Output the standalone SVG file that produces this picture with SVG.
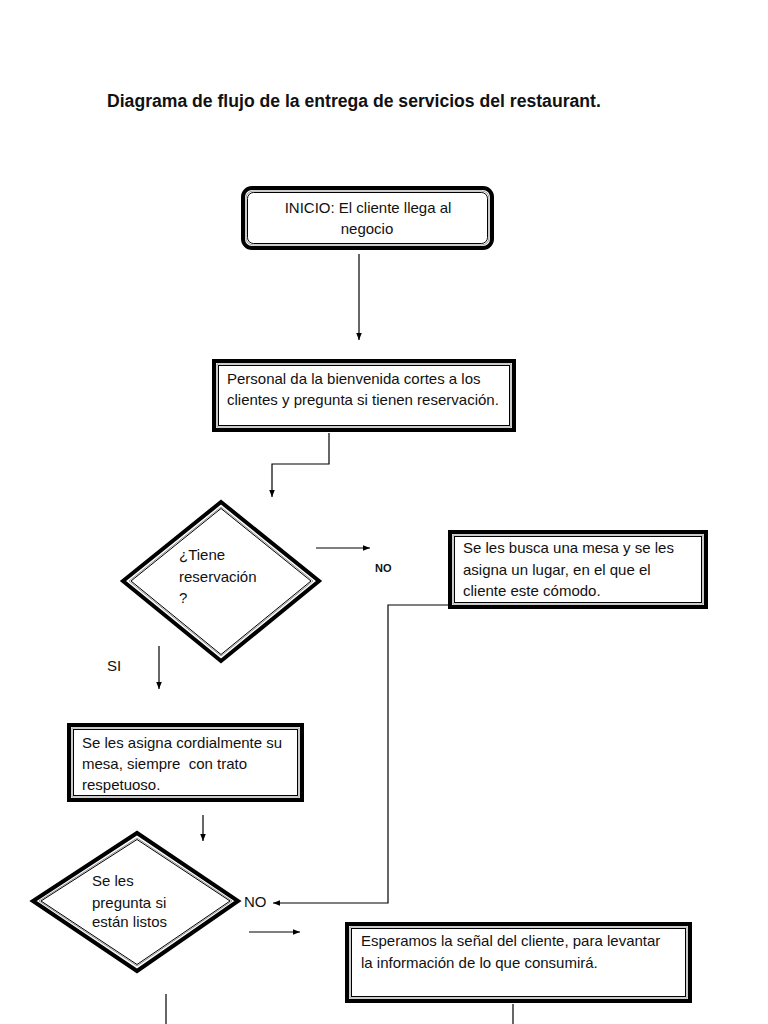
<svg xmlns="http://www.w3.org/2000/svg" width="768" height="1024" viewBox="0 0 768 1024">
<style>
text{font-family:"Liberation Sans",Arial,sans-serif;font-size:15px;fill:#111}
.title{font-weight:bold;font-size:17.6px}
.o{fill:#fff;stroke:#000;stroke-width:4}
.m{fill:none;stroke:#999;stroke-width:1}
.i{fill:none;stroke:#000;stroke-width:1}
.c{fill:none;stroke:#000;stroke-width:1.2}
</style>
<defs>
<marker id="ah" viewBox="0 0 10 10" refX="10" refY="5" markerWidth="7" markerHeight="7" orient="auto" markerUnits="userSpaceOnUse">
<path d="M0,1 L10,5 L0,9 Z" fill="#000"/>
</marker>
</defs>
<rect width="768" height="1024" fill="#fff"/>
<text class="title" x="107" y="107">Diagrama de flujo de la entrega de servicios del restaurant.</text>

<g id="connectors">
<path class="c" d="M359,254 V340" marker-end="url(#ah)"/>
<path class="c" d="M329,433 V464 H272 V497" marker-end="url(#ah)"/>
<path class="c" d="M316,548 H370" marker-end="url(#ah)"/>
<path class="c" d="M448,605 H388 V903 H273" marker-end="url(#ah)"/>
<path class="c" d="M159,646 V689" marker-end="url(#ah)"/>
<path class="c" d="M203,815 V841" marker-end="url(#ah)"/>
<path class="c" d="M249,932 H300" marker-end="url(#ah)"/>
<path class="c" d="M166,994 V1024"/>
<path class="c" d="M513,1004 V1024"/>
</g>

<g id="inicio">
<rect class="o" x="243" y="188" width="249" height="60" rx="9"/>
<rect class="m" x="246" y="191" width="243" height="54" rx="7"/>
<rect class="i" x="247.5" y="192.5" width="240" height="51" rx="6"/>
<text x="368" y="213" text-anchor="middle">INICIO: El cliente llega al</text>
<text x="367" y="234" text-anchor="middle">negocio</text>
</g>

<g id="bienvenida">
<rect class="o" x="214" y="361" width="300" height="69"/>
<rect class="m" x="217" y="364" width="294" height="63"/>
<rect class="i" x="218.5" y="365.5" width="291" height="60"/>
<text x="227" y="384">Personal da la bienvenida cortes a los</text>
<text x="227" y="405">clientes y pregunta si tienen reservación.</text>
</g>

<g id="reservacion">
<polygon class="o" points="221,502 319,581 221,661 123,581"/>
<polygon class="m" points="221,507 313,581 221,656 129,581"/>
<polygon class="i" points="221,508.5 311,581 221,654.5 131,581"/>
<text x="179" y="560">¿Tiene</text>
<text x="179" y="582">reservación</text>
<text x="179" y="603">?</text>
</g>
<text x="375" y="572" style="font-size:11px;font-weight:bold">NO</text>

<g id="busca">
<rect class="o" x="450" y="532" width="256" height="75"/>
<rect class="m" x="453" y="535" width="250" height="69"/>
<rect class="i" x="454.5" y="536.5" width="247" height="66"/>
<text x="463" y="553">Se les busca una mesa y se les</text>
<text x="463" y="575">asigna un lugar, en el que el</text>
<text x="463" y="596">cliente este cómodo.</text>
</g>

<text x="107" y="671">SI</text>

<g id="asigna">
<rect class="o" x="69" y="725" width="233" height="75"/>
<rect class="m" x="72" y="728" width="227" height="69"/>
<rect class="i" x="73.5" y="729.5" width="224" height="66"/>
<text x="82" y="748">Se les asigna cordialmente su</text>
<text x="82" y="769" xml:space="preserve">mesa, siempre  con trato</text>
<text x="82" y="790">respetuoso.</text>
</g>

<g id="listos">
<polygon class="o" points="137,833 238,901 137,971 33,901"/>
<polygon class="m" points="137,838 232,901 137,966 39,901"/>
<polygon class="i" points="137,839.5 230,901 137,964.5 41,901"/>
<text x="92" y="886">Se les</text>
<text x="92" y="908">pregunta si</text>
<text x="92" y="927">están listos</text>
</g>
<text x="244" y="907">NO</text>

<g id="esperamos">
<rect class="o" x="347" y="924" width="343" height="77"/>
<rect class="m" x="350" y="927" width="337" height="71"/>
<rect class="i" x="351.5" y="928.5" width="334" height="68"/>
<text x="361" y="946">Esperamos la señal del cliente, para levantar</text>
<text x="361" y="968">la información de lo que consumirá.</text>
</g>
</svg>
